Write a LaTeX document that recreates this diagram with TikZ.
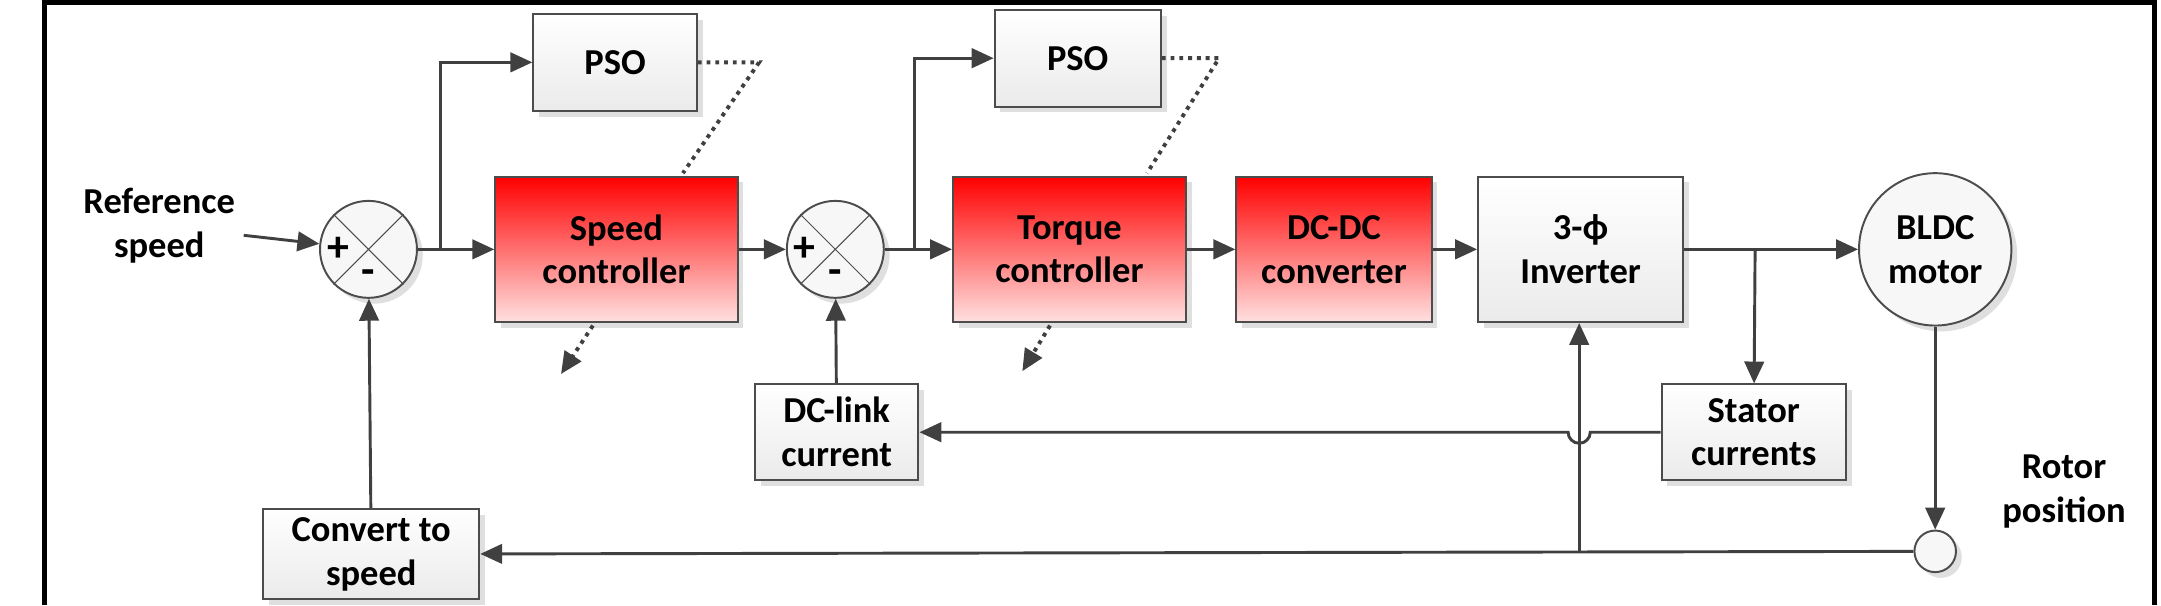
\documentclass[tikz,border=0pt]{standalone}
\usepackage{fontspec}
\setmainfont{Carlito}
\usetikzlibrary{arrows.meta,shadows,calc}

\tikzset{
  wire/.style={draw=black!75, line width=1.2pt, -{Triangle[length=9pt,width=8pt]}},
  dots/.style={draw=black!75, line width=1.6pt, dotted},
  blk/.style={draw=black!70, thick, top color=white, bottom color=black!8, drop shadow={opacity=0.25}, align=center, font=\fontsize{15}{18}\selectfont\bfseries},
  ctl/.style={blk, top color=red, bottom color=red!12},
  sum/.style={circle, draw=black!70, thick, fill=black!3, minimum size=70*0.02cm, inner sep=0pt, drop shadow={opacity=0.25}},
  lbl/.style={align=center, font=\fontsize{15}{18}\selectfont\bfseries}
}

\begin{document}
\begin{tikzpicture}[x=0.02cm, y=-0.02cm]
      % Bounding box and frame
      \useasboundingbox (0,0) rectangle (1560,437);
      \draw[line width=2pt] (32,437) -- (32,2) -- (1555,2) -- (1555,437);

      \node[lbl] (ref) at (115,163) {Reference\\speed};
      \node[sum] (sum1) at (266,180) {};
      \node[blk, minimum width=118*0.02cm, minimum height=70*0.02cm] (pso1) at (444,45) {PSO};
      \node[ctl, minimum width=175*0.02cm, minimum height=105*0.02cm] (speed) at (445,180) {Speed\\controller};
      \node[sum] (sum2) at (603,180) {};
      \node[blk, minimum width=120*0.02cm, minimum height=70*0.02cm] (pso2) at (778,42) {PSO};
      \node[ctl, minimum width=168*0.02cm, minimum height=105*0.02cm] (torque) at (772,180) {Torque\\controller};
      \node[ctl, minimum width=141*0.02cm, minimum height=105*0.02cm] (dcdc) at (963,180) {DC-DC\\converter};
      \node[blk, minimum width=148*0.02cm, minimum height=105*0.02cm] (inv) at (1141,180) {3-ϕ\\Inverter};
      \node[sum, minimum size=110*0.02cm, lbl] (bldc) at (1397,180) {BLDC\\motor};
      \node[blk, minimum width=133*0.02cm, minimum height=69*0.02cm] (stator) at (1266,312) {Stator\\currents};
      \node[blk, minimum width=118*0.02cm, minimum height=69*0.02cm] (dclink) at (604,312) {DC-link\\current};
      \node[blk, minimum width=156*0.02cm, minimum height=65*0.02cm] (conv) at (268,400) {Convert to\\speed};
      \node[sum, minimum size=30*0.02cm] (pick) at (1397,398) {};
      \node[lbl] (rotor) at (1490,355) {Rotor\\position};

      % sum junction marks
      \foreach \s in {sum1,sum2} {
        \draw[black!70] (\s.north east) -- (\s.south west) (\s.north west) -- (\s.south east);
        \node[font=\fontsize{18}{18}\selectfont\bfseries] at ($(\s)+(-22,0)$) {+};
        \node[font=\fontsize{18}{18}\selectfont\bfseries] at ($(\s)+(0,20)$) {-};
      }

      \coordinate (b1) at (318,180);
      \coordinate (b2) at (660,180);
      \coordinate (b3) at (1267,180);
      \coordinate (b4) at (1140,398);

      \draw[wire] (ref) -- (sum1);
      \draw[wire] (sum1) -- (speed);
      \draw[wire] (b1) |- (pso1);
      \draw[wire] (speed) -- (sum2);
      \draw[wire] (sum2) -- (torque);
      \draw[wire] (b2) |- (pso2);
      \draw[wire] (torque) -- (dcdc);
      \draw[wire] (dcdc) -- (inv);
      \draw[wire] (inv) -- (bldc);
      \draw[wire] (b3) -- (stator);
      \draw[wire] (stator.west) -- (1148,312) arc (0:180:8) -- (dclink.east);
      \draw[wire] (dclink) -- (sum2);
      \draw[wire] (bldc) -- (pick);
      \draw[wire] (pick) -- (conv);
      \draw[wire] (b4) -- (b4 |- inv.south);
      \draw[wire] (conv) -- (sum1);

      % dotted tuning links
      \draw[dots] (pso1.east) -- (548,45) -- (493,125);
      \draw[dots, -{Triangle[length=9pt,width=8pt]}] (428,235) -- (405,270);
      \draw[dots] (pso2.east) -- (880,42) -- (828,125);
      \draw[dots, -{Triangle[length=9pt,width=8pt]}] (758,235) -- (738,268);
\end{tikzpicture}
\end{document}
